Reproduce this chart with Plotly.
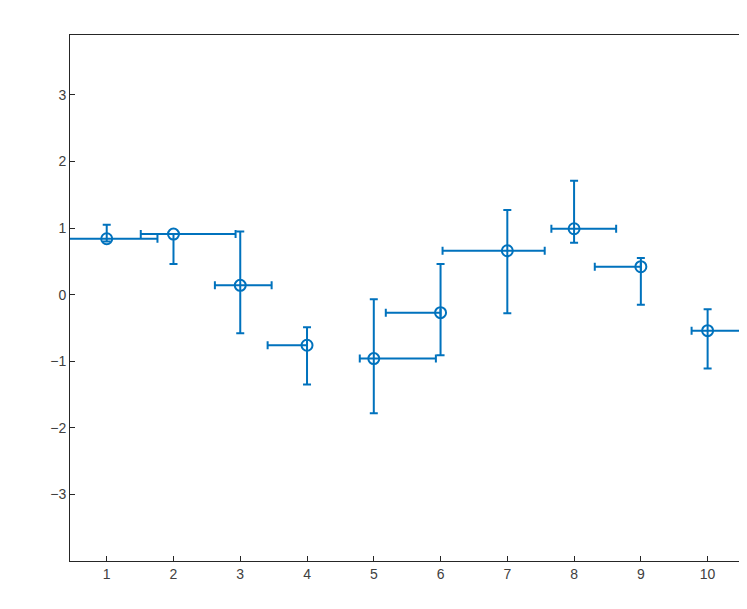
import plotly.graph_objects as go

x = [1, 2, 3, 4, 5, 6, 7, 8, 9, 10]
y = [0.84, 0.91, 0.14, -0.76, -0.96, -0.27, 0.66, 0.99, 0.42, -0.54]
y_top = [1.05, 0.91, 0.95, -0.49, -0.07, 0.46, 1.27, 1.71, 0.55, -0.22]
y_bot = [0.80, 0.46, -0.58, -1.35, -1.78, -0.91, -0.28, 0.78, -0.15, -1.11]
x_left = [0.40, 1.51, 2.62, 3.41, 4.79, 5.18, 6.03, 7.66, 8.31, 9.76]
x_right = [1.76, 2.93, 3.47, 4.0, 5.93, 6.0, 7.56, 8.63, 9.0, 10.49]

blue = '#0072BD'

fig = go.Figure()
fig.add_trace(go.Scatter(
    x=x, y=y, mode='markers',
    marker=dict(symbol='circle-open', size=11, color=blue, line=dict(width=2)),
    error_y=dict(type='data', symmetric=False,
                 array=[t - v for t, v in zip(y_top, y)],
                 arrayminus=[v - b for v, b in zip(y, y_bot)],
                 color=blue, thickness=2, width=4),
    error_x=dict(type='data', symmetric=False,
                 array=[r - v for r, v in zip(x_right, x)],
                 arrayminus=[v - l for v, l in zip(x, x_left)],
                 color=blue, thickness=2, width=4),
    cliponaxis=True, showlegend=False))

axis = dict(showgrid=False, zeroline=False, showline=True, mirror=True,
            linecolor='#262626', linewidth=1, ticks='inside', ticklen=5,
            tickcolor='#262626', tickfont=dict(family='Liberation Sans', size=14, color='#404040'))
fig.update_xaxes(range=[0.45, 10.5], tickvals=x, **axis)
fig.update_yaxes(range=[-4, 3.9], tickvals=[-3, -2, -1, 0, 1, 2, 3], **axis)
fig.update_layout(width=747, height=609, plot_bgcolor='white', paper_bgcolor='white',
                  margin=dict(l=62, r=14, t=27, b=56))
fig.write_html("out.html")
